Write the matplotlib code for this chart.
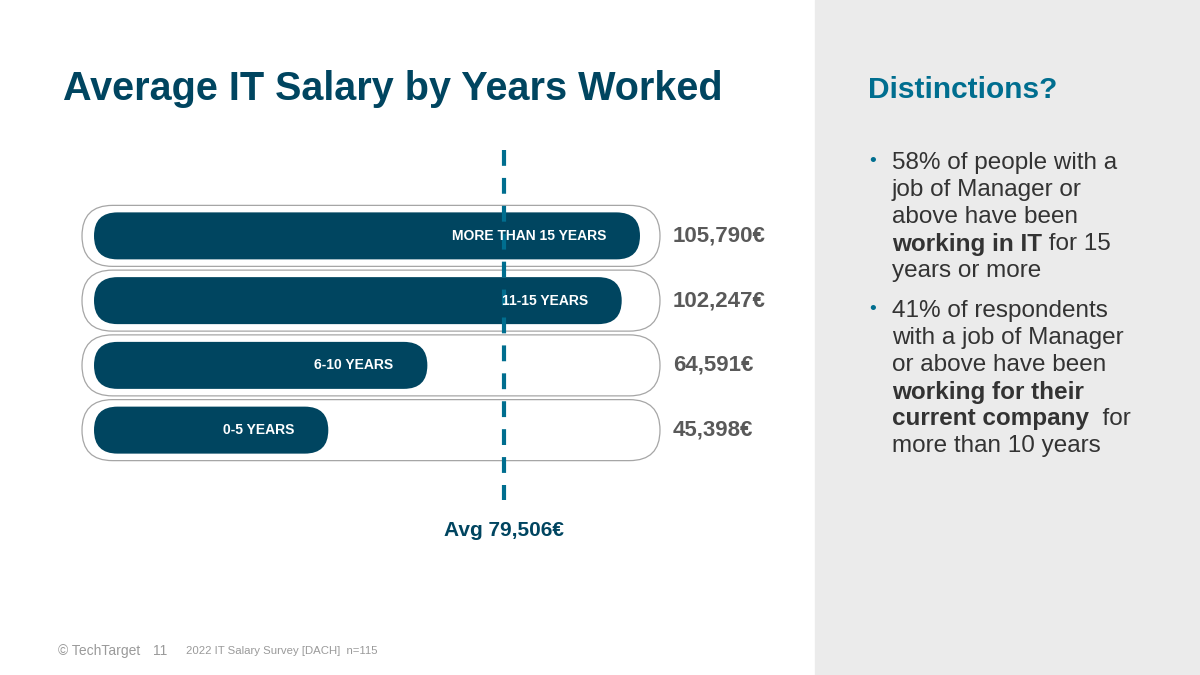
import matplotlib
matplotlib.use("Agg")
import matplotlib.pyplot as plt
from matplotlib.patches import FancyBboxPatch, Rectangle
from matplotlib.transforms import blended_transform_factory

# Data
categories = ["MORE THAN 15 YEARS", "11-15 YEARS", "6-10 YEARS", "0-5 YEARS"]
salaries = [105790, 102247, 64591, 45398]
value_labels = ["105,790€", "102,247€", "64,591€", "45,398€"]
average = 79506
average_label = "Avg 79,506€"

title = "Average IT Salary by Years Worked"
side_title = "Distinctions?"
bullets = [
    [[("58% of people with a", False)],
     [("job of Manager or", False)],
     [("above have been", False)],
     [("working in IT", True), (" for 15", False)],
     [("years or more", False)]],
    [[("41% of respondents", False)],
     [("with a job of Manager", False)],
     [("or above have been", False)],
     [("working for their", True)],
     [("current company", True), ("  for", False)],
     [("more than 10 years", False)]],
]
footer = ["© TechTarget", "11", "2022 IT Salary Survey [DACH]  n=115"]

# Colours
DARK = "#004560"
TEAL = "#006E8F"
GREY_VAL = "#595959"
OUTLINE = "#A6A6A6"
PANEL = "#EBEBEB"
BODY = "#333333"
NARROW = ["Liberation Sans Narrow", "Liberation Sans", "DejaVu Sans"]
SANS = ["Liberation Sans", "DejaVu Sans"]

W, H = 1200, 675
fig = plt.figure(figsize=(12, 6.75), dpi=100)
fig.patch.set_facecolor("white")

# background axes in pixel units for slide decoration
bg = fig.add_axes([0, 0, 1, 1])
bg.set_xlim(0, W)
bg.set_ylim(H, 0)
bg.axis("off")
bg.add_patch(Rectangle((815, 0), W - 815, H, color=PANEL, zorder=0))

bg.text(63, 89, title, fontsize=28.5, fontweight="bold", color=DARK,
        family=SANS, va="center", ha="left")
bg.text(868, 90, side_title, fontsize=21.5, fontweight="bold", color=TEAL,
        family=SANS, va="center", ha="left")

# footer
bg.text(58, 651, footer[0], fontsize=10, color="#9A9A9A", family=SANS, va="center")
bg.text(153, 651, footer[1], fontsize=10, color="#9A9A9A", family=SANS, va="center")
bg.text(186, 651, footer[2], fontsize=8.2, color="#9A9A9A", family=SANS, va="center")

# bullets with mixed bold segments
renderer = fig.canvas.get_renderer()
line_y = [[163, 190, 217, 244, 271], [311, 338, 365, 392, 419, 446]]
for block, ys in zip(bullets, line_y):
    bg.text(873, ys[0] - 1, "•", fontsize=14, color=TEAL, family=SANS,
            va="center", ha="center")
    for segs, y in zip(block, ys):
        x = 892
        for txt, bold in segs:
            t = bg.text(x, y, txt, fontsize=17.5, color=BODY, family=SANS,
                        fontweight="bold" if bold else "normal",
                        va="center", ha="left")
            x += t.get_window_extent(renderer).width

# chart axes: pill area from x=82..660 px, rows centred at 236..430 px
left_px, right_px = 82, 660
zero_px, max_px = 94, 640
top_px, bot_px = 203.5, 462.5
ax = fig.add_axes([left_px / W, 1 - bot_px / H,
                   (right_px - left_px) / W, (bot_px - top_px) / H])
ax.axis("off")
eur_per_px = max(salaries) / (max_px - zero_px)
ax.set_xlim(-(zero_px - left_px) * eur_per_px, (right_px - zero_px) * eur_per_px)
n = len(categories)
ax.set_ylim(n - 0.5, -0.5)
row_px = (bot_px - top_px) / n
rows = list(range(n))

x_lo, x_hi = ax.get_xlim()
bar_h = 47 / row_px
pill_h = 61 / row_px
for r, v in zip(rows, salaries):
    # outline pill
    rad = pill_h * row_px / 2 * eur_per_px
    ax.add_patch(FancyBboxPatch((x_lo, r - pill_h / 2), x_hi - x_lo, pill_h,
                                boxstyle=f"round,pad=0,rounding_size={rad}",
                                mutation_aspect=1 / (row_px * eur_per_px),
                                fc="white", ec=OUTLINE, lw=0.9, clip_on=False, zorder=1))
    # filled bar
    rad = bar_h * row_px / 2 * eur_per_px
    ax.add_patch(FancyBboxPatch((0, r - bar_h / 2), v, bar_h,
                                boxstyle=f"round,pad=0,rounding_size={rad}",
                                mutation_aspect=1 / (row_px * eur_per_px),
                                fc=DARK, ec="none", clip_on=False, zorder=2))

for r, v, cat in zip(rows, salaries, categories):
    ax.annotate(cat, xy=(v, r), xytext=(-34, 0), textcoords="offset pixels",
                ha="right", va="center", color="white", fontsize=10,
                fontweight="bold", family=NARROW, zorder=4)

trans = blended_transform_factory(ax.transAxes, ax.transData)
for r, lab in zip(rows, value_labels):
    ax.annotate(lab, xy=(1, r), xycoords=trans, xytext=(13, 0),
                textcoords="offset pixels", ha="left", va="center",
                color=GREY_VAL, fontsize=16, fontweight="bold", family=NARROW,
                annotation_clip=False)

# average dashed line
y_top = (150 - 236) / row_px
y_bot = (500 - 236) / row_px
ax.plot([average, average], [y_top, y_bot], color=TEAL, lw=3,
        dashes=(3.8, 2.9), clip_on=False, zorder=3)
ax.annotate(average_label, xy=(average, y_bot), xytext=(0, -31),
            textcoords="offset pixels", ha="center", va="center",
            color=DARK, fontsize=15, fontweight="bold", family=SANS,
            annotation_clip=False)

fig.savefig("out.png", dpi=100)
